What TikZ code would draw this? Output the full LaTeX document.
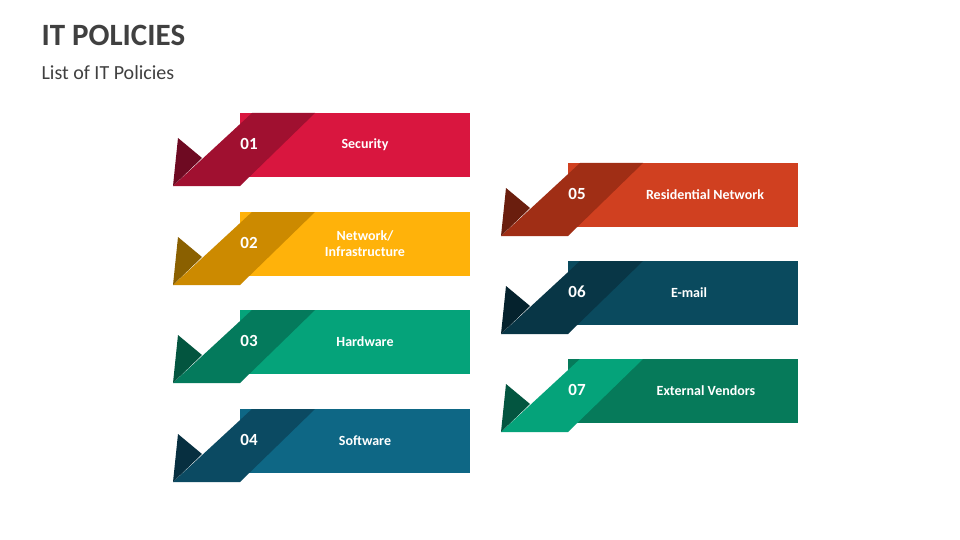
\documentclass[tikz,border=0pt]{standalone}
\usepackage{fontspec}
\setmainfont{Carlito}
\begin{document}
\begin{tikzpicture}[x=1pt,y=-1pt,
  num/.style={font=\bfseries\fontsize{17}{20}\selectfont,text=white},
  lbl/.style={font=\bfseries\fontsize{14}{16}\selectfont,text=white,align=center}]
\useasboundingbox[fill=white] (0,0) rectangle (960,540);
\node[anchor=west,font=\bfseries\fontsize{31}{36}\selectfont,text=black!75] (title) at (38,35) {IT POLICIES};
\node[anchor=west,font=\fontsize{20}{24}\selectfont,text=black!75] (sub) at (38,73) {List of IT Policies};
\newcommand{\policyitem}[8]{% dx dy rect band tri num label name
  \begin{scope}[shift={(#1,#2)}]
  \fill[#3] (240,0) rectangle (470,64);
  \fill[#4] (252,0) -- (315,0) -- (240,73) -- (173,73) -- cycle;
  \fill[#5] (178,25) -- (202,45) -- (173,73) -- cycle;
  \node[num] (#8n) at (249,31) {#6};
  \node[lbl] (#8l) at (365,32) {#7};
  \end{scope}}
\definecolor{r1}{HTML}{D9163F}\definecolor{b1}{HTML}{A01030}\definecolor{t1}{HTML}{6E0A22}
\definecolor{r2}{HTML}{FFB20A}\definecolor{b2}{HTML}{CC8A00}\definecolor{t2}{HTML}{8A6000}
\definecolor{r3}{HTML}{05A37A}\definecolor{b3}{HTML}{047A5C}\definecolor{t3}{HTML}{03553F}
\definecolor{r4}{HTML}{0E6785}\definecolor{b4}{HTML}{0B4A62}\definecolor{t4}{HTML}{072F40}
\definecolor{r5}{HTML}{D04020}\definecolor{b5}{HTML}{A02E15}\definecolor{t5}{HTML}{6A1E0E}
\definecolor{r6}{HTML}{0A4A5E}\definecolor{b6}{HTML}{083646}\definecolor{t6}{HTML}{05222D}
\definecolor{r7}{HTML}{067A5A}\definecolor{b7}{HTML}{05A37A}\definecolor{t7}{HTML}{035540}
\policyitem{0}{113}{r1}{b1}{t1}{01}{Security}{a}
\policyitem{0}{212}{r2}{b2}{t2}{02}{Network/\\Infrastructure}{b}
\policyitem{0}{310}{r3}{b3}{t3}{03}{Hardware}{c}
\policyitem{0}{409}{r4}{b4}{t4}{04}{Software}{d}
\policyitem{328}{163}{r5}{b5}{t5}{05}{}{e}
\node[lbl] (el) at (705,195) {Residential Network};
\policyitem{328}{261}{r6}{b6}{t6}{06}{}{f}
\node[lbl] (fl) at (689,293) {E-mail};
\policyitem{328}{359}{r7}{b7}{t7}{07}{}{g}
\node[lbl] (gl) at (706,391) {External Vendors};
\end{tikzpicture}
\end{document}
